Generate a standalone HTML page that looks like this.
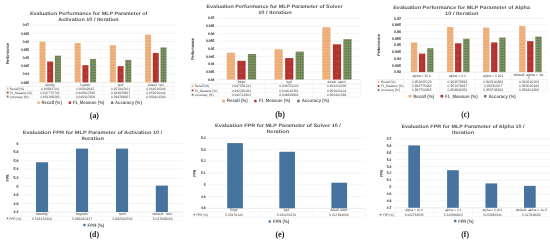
<!DOCTYPE html>
<html><head><meta charset="utf-8"><title>MLP parameter evaluation</title>
<style>
html,body{margin:0;padding:0;background:#fff;}
body{width:550px;height:242px;overflow:hidden;}
svg{display:block;}
text{white-space:pre;text-rendering:geometricPrecision;}
</style></head><body>
<svg width="550" height="242" viewBox="0 0 550 242">
<defs>
<pattern id="po" width="2.2" height="1.5" patternUnits="userSpaceOnUse"><rect width="2.2" height="1.5" fill="#f6ba88"/><rect y="1" width="2.2" height="0.5" fill="#de9c66"/><rect x="1.8" width="0.4" height="1.5" fill="#ecad78"/></pattern>
<pattern id="pr" width="1.2" height="1.2" patternUnits="userSpaceOnUse"><rect width="1.2" height="1.2" fill="#b1322c"/><rect width="0.5" height="0.5" fill="#bd4840"/></pattern>
<pattern id="pg" width="2.4" height="1.6" patternUnits="userSpaceOnUse"><rect width="2.4" height="1.6" fill="#5b724a"/><rect x="0.4" y="0.55" width="2.0" height="1.05" fill="#879d69"/></pattern>
</defs>
<rect width="550" height="242" fill="#ffffff"/>

<text x="30.00" y="14.75" dy="0.4" font-size="4.9" font-weight="bold" fill="#555555" font-family='"Liberation Sans",Arial,sans-serif' textLength="117.30" lengthAdjust="spacingAndGlyphs" >Evaluation Performance for MLP Parameter of</text>
<text x="58.20" y="21.00" dy="0.4" font-size="4.9" font-weight="bold" fill="#555555" font-family='"Liberation Sans",Arial,sans-serif' textLength="60.50" lengthAdjust="spacingAndGlyphs" >Activation 10 / Iteration</text>
<line x1="32.40" y1="25.20" x2="175.30" y2="25.20" stroke="#eeeeee" stroke-width="0.6"/>
<text x="22.87" y="25.20" dy="0.35em" font-size="3.4" font-weight="normal" fill="#3c3c3c" font-family='"Liberation Sans",Arial,sans-serif' textLength="6.23" lengthAdjust="spacingAndGlyphs" stroke="#3c3c3c" stroke-width="0.15">0.97</text>
<line x1="32.40" y1="33.37" x2="175.30" y2="33.37" stroke="#eeeeee" stroke-width="0.6"/>
<text x="21.09" y="33.37" dy="0.35em" font-size="3.4" font-weight="normal" fill="#3c3c3c" font-family='"Liberation Sans",Arial,sans-serif' textLength="8.01" lengthAdjust="spacingAndGlyphs" stroke="#3c3c3c" stroke-width="0.15">0.965</text>
<line x1="32.40" y1="41.54" x2="175.30" y2="41.54" stroke="#eeeeee" stroke-width="0.6"/>
<text x="22.87" y="41.54" dy="0.35em" font-size="3.4" font-weight="normal" fill="#3c3c3c" font-family='"Liberation Sans",Arial,sans-serif' textLength="6.23" lengthAdjust="spacingAndGlyphs" stroke="#3c3c3c" stroke-width="0.15">0.96</text>
<line x1="32.40" y1="49.71" x2="175.30" y2="49.71" stroke="#eeeeee" stroke-width="0.6"/>
<text x="21.09" y="49.71" dy="0.35em" font-size="3.4" font-weight="normal" fill="#3c3c3c" font-family='"Liberation Sans",Arial,sans-serif' textLength="8.01" lengthAdjust="spacingAndGlyphs" stroke="#3c3c3c" stroke-width="0.15">0.955</text>
<line x1="32.40" y1="57.88" x2="175.30" y2="57.88" stroke="#eeeeee" stroke-width="0.6"/>
<text x="22.87" y="57.88" dy="0.35em" font-size="3.4" font-weight="normal" fill="#3c3c3c" font-family='"Liberation Sans",Arial,sans-serif' textLength="6.23" lengthAdjust="spacingAndGlyphs" stroke="#3c3c3c" stroke-width="0.15">0.95</text>
<line x1="32.40" y1="66.05" x2="175.30" y2="66.05" stroke="#eeeeee" stroke-width="0.6"/>
<text x="21.09" y="66.05" dy="0.35em" font-size="3.4" font-weight="normal" fill="#3c3c3c" font-family='"Liberation Sans",Arial,sans-serif' textLength="8.01" lengthAdjust="spacingAndGlyphs" stroke="#3c3c3c" stroke-width="0.15">0.945</text>
<line x1="32.40" y1="74.22" x2="175.30" y2="74.22" stroke="#eeeeee" stroke-width="0.6"/>
<text x="22.87" y="74.22" dy="0.35em" font-size="3.4" font-weight="normal" fill="#3c3c3c" font-family='"Liberation Sans",Arial,sans-serif' textLength="6.23" lengthAdjust="spacingAndGlyphs" stroke="#3c3c3c" stroke-width="0.15">0.94</text>
<line x1="32.40" y1="82.39" x2="175.30" y2="82.39" stroke="#dedede" stroke-width="0.6"/>
<text x="21.09" y="82.39" dy="0.35em" font-size="3.4" font-weight="normal" fill="#3c3c3c" font-family='"Liberation Sans",Arial,sans-serif' textLength="8.01" lengthAdjust="spacingAndGlyphs" stroke="#3c3c3c" stroke-width="0.15">0.935</text>
<text transform="translate(7.90,53.70) rotate(-90)" x="-10.40" y="0" dy="0.35em" font-size="4.0" fill="#3c3c3c" font-family='"Liberation Sans",Arial,sans-serif' textLength="20.80" lengthAdjust="spacingAndGlyphs" stroke="#3c3c3c" stroke-width="0.1">Performance</text>
<rect x="39.50" y="41.64" width="6.00" height="40.75" fill="url(#po)"/>
<rect x="47.20" y="61.51" width="6.00" height="20.88" fill="url(#pr)"/>
<rect x="54.90" y="55.64" width="6.00" height="26.75" fill="url(#pg)"/>
<rect x="74.70" y="43.13" width="6.00" height="39.26" fill="url(#po)"/>
<rect x="82.40" y="65.16" width="6.00" height="17.23" fill="url(#pr)"/>
<rect x="90.10" y="59.01" width="6.00" height="23.38" fill="url(#pg)"/>
<rect x="109.90" y="45.07" width="6.00" height="37.32" fill="url(#po)"/>
<rect x="117.60" y="66.15" width="6.00" height="16.24" fill="url(#pr)"/>
<rect x="125.30" y="59.86" width="6.00" height="22.53" fill="url(#pg)"/>
<rect x="145.10" y="34.65" width="6.00" height="47.74" fill="url(#po)"/>
<rect x="152.80" y="52.93" width="6.00" height="29.46" fill="url(#pr)"/>
<rect x="160.50" y="47.42" width="6.00" height="34.97" fill="url(#pg)"/>
<line x1="5.50" y1="86.50" x2="173.60" y2="86.50" stroke="#ececec" stroke-width="0.5"/>
<line x1="5.50" y1="90.50" x2="173.60" y2="90.50" stroke="#ececec" stroke-width="0.5"/>
<line x1="5.50" y1="94.50" x2="173.60" y2="94.50" stroke="#ececec" stroke-width="0.5"/>
<line x1="5.50" y1="98.50" x2="173.60" y2="98.50" stroke="#ececec" stroke-width="0.5"/>
<line x1="5.50" y1="86.50" x2="173.60" y2="86.50" stroke="#ececec" stroke-width="0.5"/>
<line x1="5.50" y1="86.50" x2="5.50" y2="98.50" stroke="#ececec" stroke-width="0.5"/>
<line x1="32.40" y1="82.90" x2="32.40" y2="98.50" stroke="#ececec" stroke-width="0.5"/>
<line x1="67.70" y1="82.90" x2="67.70" y2="98.50" stroke="#ececec" stroke-width="0.5"/>
<line x1="103.00" y1="82.90" x2="103.00" y2="98.50" stroke="#ececec" stroke-width="0.5"/>
<line x1="138.30" y1="82.90" x2="138.30" y2="98.50" stroke="#ececec" stroke-width="0.5"/>
<line x1="173.60" y1="82.90" x2="173.60" y2="98.50" stroke="#ececec" stroke-width="0.5"/>
<text x="44.60" y="84.60" dy="0.35em" font-size="3.4" font-weight="normal" fill="#3c3c3c" font-family='"Liberation Sans",Arial,sans-serif' textLength="10.90" lengthAdjust="spacingAndGlyphs" >'identity'</text>
<text x="41.30" y="88.50" dy="0.35em" font-size="3.4" font-weight="normal" fill="#3c3c3c" font-family='"Liberation Sans",Arial,sans-serif' textLength="17.50" lengthAdjust="spacingAndGlyphs" >0.95993704</text>
<text x="40.42" y="92.50" dy="0.35em" font-size="3.4" font-weight="normal" fill="#3c3c3c" font-family='"Liberation Sans",Arial,sans-serif' textLength="19.25" lengthAdjust="spacingAndGlyphs" >0.947775705</text>
<text x="40.42" y="96.50" dy="0.35em" font-size="3.4" font-weight="normal" fill="#3c3c3c" font-family='"Liberation Sans",Arial,sans-serif' textLength="19.25" lengthAdjust="spacingAndGlyphs" >0.951368283</text>
<text x="79.90" y="84.60" dy="0.35em" font-size="3.4" font-weight="normal" fill="#3c3c3c" font-family='"Liberation Sans",Arial,sans-serif' textLength="10.90" lengthAdjust="spacingAndGlyphs" >'logistic'</text>
<text x="76.60" y="88.50" dy="0.35em" font-size="3.4" font-weight="normal" fill="#3c3c3c" font-family='"Liberation Sans",Arial,sans-serif' textLength="17.50" lengthAdjust="spacingAndGlyphs" >0.95902662</text>
<text x="75.72" y="92.50" dy="0.35em" font-size="3.4" font-weight="normal" fill="#3c3c3c" font-family='"Liberation Sans",Arial,sans-serif' textLength="19.25" lengthAdjust="spacingAndGlyphs" >0.945547358</text>
<text x="75.72" y="96.50" dy="0.35em" font-size="3.4" font-weight="normal" fill="#3c3c3c" font-family='"Liberation Sans",Arial,sans-serif' textLength="19.25" lengthAdjust="spacingAndGlyphs" >0.949307958</text>
<text x="117.38" y="84.60" dy="0.35em" font-size="3.4" font-weight="normal" fill="#3c3c3c" font-family='"Liberation Sans",Arial,sans-serif' textLength="6.54" lengthAdjust="spacingAndGlyphs" >'tanh'</text>
<text x="111.03" y="88.50" dy="0.35em" font-size="3.4" font-weight="normal" fill="#3c3c3c" font-family='"Liberation Sans",Arial,sans-serif' textLength="19.25" lengthAdjust="spacingAndGlyphs" >0.957842161</text>
<text x="111.03" y="92.50" dy="0.35em" font-size="3.4" font-weight="normal" fill="#3c3c3c" font-family='"Liberation Sans",Arial,sans-serif' textLength="19.25" lengthAdjust="spacingAndGlyphs" >0.944939567</text>
<text x="111.03" y="96.50" dy="0.35em" font-size="3.4" font-weight="normal" fill="#3c3c3c" font-family='"Liberation Sans",Arial,sans-serif' textLength="19.25" lengthAdjust="spacingAndGlyphs" >0.948788927</text>
<text x="147.77" y="84.60" dy="0.35em" font-size="3.4" font-weight="normal" fill="#3c3c3c" font-family='"Liberation Sans",Arial,sans-serif' textLength="16.35" lengthAdjust="spacingAndGlyphs" >default: 'relu'</text>
<text x="146.32" y="88.50" dy="0.35em" font-size="3.4" font-weight="normal" fill="#3c3c3c" font-family='"Liberation Sans",Arial,sans-serif' textLength="19.25" lengthAdjust="spacingAndGlyphs" >0.964216269</text>
<text x="146.32" y="92.50" dy="0.35em" font-size="3.4" font-weight="normal" fill="#3c3c3c" font-family='"Liberation Sans",Arial,sans-serif' textLength="19.25" lengthAdjust="spacingAndGlyphs" >0.953026444</text>
<text x="146.32" y="96.50" dy="0.35em" font-size="3.4" font-weight="normal" fill="#3c3c3c" font-family='"Liberation Sans",Arial,sans-serif' textLength="19.25" lengthAdjust="spacingAndGlyphs" >0.956401384</text>
<rect x="6.80" y="87.60" width="1.80" height="1.80" fill="#f0ad78"/>
<text x="9.80" y="88.50" dy="0.35em" font-size="3.3" font-weight="normal" fill="#3c3c3c" font-family='"Liberation Sans",Arial,sans-serif' textLength="14.30" lengthAdjust="spacingAndGlyphs" >Recall (%)</text>
<rect x="6.80" y="91.60" width="1.80" height="1.80" fill="#b1322c"/>
<text x="9.80" y="92.50" dy="0.35em" font-size="3.3" font-weight="normal" fill="#3c3c3c" font-family='"Liberation Sans",Arial,sans-serif' textLength="22.00" lengthAdjust="spacingAndGlyphs" >F1_Measure (%)</text>
<rect x="6.80" y="95.60" width="1.80" height="1.80" fill="#5d7d58"/>
<text x="9.80" y="96.50" dy="0.35em" font-size="3.3" font-weight="normal" fill="#3c3c3c" font-family='"Liberation Sans",Arial,sans-serif' textLength="18.80" lengthAdjust="spacingAndGlyphs" >Accuracy (%)</text>
<rect x="37.30" y="101.50" width="2.40" height="2.40" fill="#f0ad78"/>
<text x="41.50" y="102.40" dy="0.35em" font-size="4.8" font-weight="bold" fill="#5e5e5e" font-family='"Liberation Sans",Arial,sans-serif' textLength="20.30" lengthAdjust="spacingAndGlyphs" >Recall (%)</text>
<rect x="68.70" y="101.50" width="2.40" height="2.40" fill="#b1322c"/>
<text x="72.70" y="102.40" dy="0.35em" font-size="4.8" font-weight="bold" fill="#5e5e5e" font-family='"Liberation Sans",Arial,sans-serif' textLength="31.50" lengthAdjust="spacingAndGlyphs" >F1_Measure (%)</text>
<rect x="111.00" y="101.50" width="2.40" height="2.40" fill="#5d7d58"/>
<text x="115.00" y="102.40" dy="0.35em" font-size="4.8" font-weight="bold" fill="#5e5e5e" font-family='"Liberation Sans",Arial,sans-serif' textLength="26.80" lengthAdjust="spacingAndGlyphs" >Accuracy (%)</text>
<text x="89.80" y="115.70" dy="0.25em" font-size="8.8" font-weight="bold" fill="#1a1a1a" font-family='"Liberation Serif","Times New Roman",serif' textLength="9.20" lengthAdjust="spacingAndGlyphs" >(a)</text>
<text x="206.50" y="8.00" dy="0.4" font-size="4.9" font-weight="bold" fill="#555555" font-family='"Liberation Sans",Arial,sans-serif' textLength="136.10" lengthAdjust="spacingAndGlyphs" >Evaluation Performance for MLP Parameter of Solver</text>
<text x="258.20" y="13.75" dy="0.4" font-size="4.9" font-weight="bold" fill="#555555" font-family='"Liberation Sans",Arial,sans-serif' textLength="33.50" lengthAdjust="spacingAndGlyphs" >10 / Iteration</text>
<line x1="217.50" y1="18.30" x2="360.50" y2="18.30" stroke="#eeeeee" stroke-width="0.6"/>
<text x="207.93" y="18.30" dy="0.35em" font-size="3.4" font-weight="normal" fill="#3c3c3c" font-family='"Liberation Sans",Arial,sans-serif' textLength="6.47" lengthAdjust="spacingAndGlyphs" stroke="#3c3c3c" stroke-width="0.15">0.97</text>
<line x1="217.50" y1="25.96" x2="360.50" y2="25.96" stroke="#eeeeee" stroke-width="0.6"/>
<text x="206.08" y="25.96" dy="0.35em" font-size="3.4" font-weight="normal" fill="#3c3c3c" font-family='"Liberation Sans",Arial,sans-serif' textLength="8.32" lengthAdjust="spacingAndGlyphs" stroke="#3c3c3c" stroke-width="0.15">0.965</text>
<line x1="217.50" y1="33.62" x2="360.50" y2="33.62" stroke="#eeeeee" stroke-width="0.6"/>
<text x="207.93" y="33.62" dy="0.35em" font-size="3.4" font-weight="normal" fill="#3c3c3c" font-family='"Liberation Sans",Arial,sans-serif' textLength="6.47" lengthAdjust="spacingAndGlyphs" stroke="#3c3c3c" stroke-width="0.15">0.96</text>
<line x1="217.50" y1="41.28" x2="360.50" y2="41.28" stroke="#eeeeee" stroke-width="0.6"/>
<text x="206.08" y="41.28" dy="0.35em" font-size="3.4" font-weight="normal" fill="#3c3c3c" font-family='"Liberation Sans",Arial,sans-serif' textLength="8.32" lengthAdjust="spacingAndGlyphs" stroke="#3c3c3c" stroke-width="0.15">0.955</text>
<line x1="217.50" y1="48.94" x2="360.50" y2="48.94" stroke="#eeeeee" stroke-width="0.6"/>
<text x="207.93" y="48.94" dy="0.35em" font-size="3.4" font-weight="normal" fill="#3c3c3c" font-family='"Liberation Sans",Arial,sans-serif' textLength="6.47" lengthAdjust="spacingAndGlyphs" stroke="#3c3c3c" stroke-width="0.15">0.95</text>
<line x1="217.50" y1="56.60" x2="360.50" y2="56.60" stroke="#eeeeee" stroke-width="0.6"/>
<text x="206.08" y="56.60" dy="0.35em" font-size="3.4" font-weight="normal" fill="#3c3c3c" font-family='"Liberation Sans",Arial,sans-serif' textLength="8.32" lengthAdjust="spacingAndGlyphs" stroke="#3c3c3c" stroke-width="0.15">0.945</text>
<line x1="217.50" y1="64.26" x2="360.50" y2="64.26" stroke="#eeeeee" stroke-width="0.6"/>
<text x="207.93" y="64.26" dy="0.35em" font-size="3.4" font-weight="normal" fill="#3c3c3c" font-family='"Liberation Sans",Arial,sans-serif' textLength="6.47" lengthAdjust="spacingAndGlyphs" stroke="#3c3c3c" stroke-width="0.15">0.94</text>
<line x1="217.50" y1="71.92" x2="360.50" y2="71.92" stroke="#eeeeee" stroke-width="0.6"/>
<text x="206.08" y="71.92" dy="0.35em" font-size="3.4" font-weight="normal" fill="#3c3c3c" font-family='"Liberation Sans",Arial,sans-serif' textLength="8.32" lengthAdjust="spacingAndGlyphs" stroke="#3c3c3c" stroke-width="0.15">0.935</text>
<line x1="217.50" y1="79.58" x2="360.50" y2="79.58" stroke="#dedede" stroke-width="0.6"/>
<text x="207.93" y="79.58" dy="0.35em" font-size="3.4" font-weight="normal" fill="#3c3c3c" font-family='"Liberation Sans",Arial,sans-serif' textLength="6.47" lengthAdjust="spacingAndGlyphs" stroke="#3c3c3c" stroke-width="0.15">0.93</text>
<text transform="translate(192.60,49.00) rotate(-90)" x="-11.00" y="0" dy="0.35em" font-size="4.0" fill="#3c3c3c" font-family='"Liberation Sans",Arial,sans-serif' textLength="22.00" lengthAdjust="spacingAndGlyphs" stroke="#3c3c3c" stroke-width="0.1">Performance</text>
<rect x="226.80" y="52.72" width="8.20" height="26.86" fill="url(#po)"/>
<rect x="237.40" y="60.79" width="8.20" height="18.79" fill="url(#pr)"/>
<rect x="247.90" y="53.98" width="8.20" height="25.60" fill="url(#pg)"/>
<rect x="274.55" y="49.35" width="8.20" height="30.23" fill="url(#po)"/>
<rect x="285.15" y="58.07" width="8.20" height="21.51" fill="url(#pr)"/>
<rect x="295.65" y="51.59" width="8.20" height="27.99" fill="url(#pg)"/>
<rect x="322.30" y="27.16" width="8.20" height="52.42" fill="url(#po)"/>
<rect x="332.90" y="44.30" width="8.20" height="35.28" fill="url(#pr)"/>
<rect x="343.40" y="39.13" width="8.20" height="40.45" fill="url(#pg)"/>
<line x1="190.50" y1="83.90" x2="360.50" y2="83.90" stroke="#ececec" stroke-width="0.5"/>
<line x1="190.50" y1="88.25" x2="360.50" y2="88.25" stroke="#ececec" stroke-width="0.5"/>
<line x1="190.50" y1="92.60" x2="360.50" y2="92.60" stroke="#ececec" stroke-width="0.5"/>
<line x1="190.50" y1="96.95" x2="360.50" y2="96.95" stroke="#ececec" stroke-width="0.5"/>
<line x1="190.50" y1="83.90" x2="360.50" y2="83.90" stroke="#ececec" stroke-width="0.5"/>
<line x1="190.50" y1="83.90" x2="190.50" y2="96.95" stroke="#ececec" stroke-width="0.5"/>
<line x1="217.50" y1="79.60" x2="217.50" y2="96.95" stroke="#ececec" stroke-width="0.5"/>
<line x1="265.17" y1="79.60" x2="265.17" y2="96.95" stroke="#ececec" stroke-width="0.5"/>
<line x1="312.83" y1="79.60" x2="312.83" y2="96.95" stroke="#ececec" stroke-width="0.5"/>
<line x1="360.50" y1="79.60" x2="360.50" y2="96.95" stroke="#ececec" stroke-width="0.5"/>
<text x="237.03" y="81.70" dy="0.35em" font-size="3.4" font-weight="normal" fill="#3c3c3c" font-family='"Liberation Sans",Arial,sans-serif' textLength="8.61" lengthAdjust="spacingAndGlyphs" >'lbfgs'</text>
<text x="231.65" y="86.08" dy="0.35em" font-size="3.4" font-weight="normal" fill="#3c3c3c" font-family='"Liberation Sans",Arial,sans-serif' textLength="19.36" lengthAdjust="spacingAndGlyphs" >0.947535141</text>
<text x="231.65" y="90.42" dy="0.35em" font-size="3.4" font-weight="normal" fill="#3c3c3c" font-family='"Liberation Sans",Arial,sans-serif' textLength="19.36" lengthAdjust="spacingAndGlyphs" >0.942265184</text>
<text x="231.65" y="94.78" dy="0.35em" font-size="3.4" font-weight="normal" fill="#3c3c3c" font-family='"Liberation Sans",Arial,sans-serif' textLength="19.36" lengthAdjust="spacingAndGlyphs" >0.946712803</text>
<text x="285.93" y="81.70" dy="0.35em" font-size="3.4" font-weight="normal" fill="#3c3c3c" font-family='"Liberation Sans",Arial,sans-serif' textLength="6.15" lengthAdjust="spacingAndGlyphs" >'sgd'</text>
<text x="279.32" y="86.08" dy="0.35em" font-size="3.4" font-weight="normal" fill="#3c3c3c" font-family='"Liberation Sans",Arial,sans-serif' textLength="19.36" lengthAdjust="spacingAndGlyphs" >0.949731163</text>
<text x="279.32" y="90.42" dy="0.35em" font-size="3.4" font-weight="normal" fill="#3c3c3c" font-family='"Liberation Sans",Arial,sans-serif' textLength="19.36" lengthAdjust="spacingAndGlyphs" >0.944042351</text>
<text x="279.32" y="94.78" dy="0.35em" font-size="3.4" font-weight="normal" fill="#3c3c3c" font-family='"Liberation Sans",Arial,sans-serif' textLength="19.36" lengthAdjust="spacingAndGlyphs" >0.948269896</text>
<text x="327.44" y="81.70" dy="0.35em" font-size="3.4" font-weight="normal" fill="#3c3c3c" font-family='"Liberation Sans",Arial,sans-serif' textLength="18.45" lengthAdjust="spacingAndGlyphs" >default: 'adam'</text>
<text x="326.99" y="86.08" dy="0.35em" font-size="3.4" font-weight="normal" fill="#3c3c3c" font-family='"Liberation Sans",Arial,sans-serif' textLength="19.36" lengthAdjust="spacingAndGlyphs" >0.964216269</text>
<text x="326.99" y="90.42" dy="0.35em" font-size="3.4" font-weight="normal" fill="#3c3c3c" font-family='"Liberation Sans",Arial,sans-serif' textLength="19.36" lengthAdjust="spacingAndGlyphs" >0.953026444</text>
<text x="326.99" y="94.78" dy="0.35em" font-size="3.4" font-weight="normal" fill="#3c3c3c" font-family='"Liberation Sans",Arial,sans-serif' textLength="19.36" lengthAdjust="spacingAndGlyphs" >0.956401384</text>
<rect x="191.70" y="85.17" width="1.80" height="1.80" fill="#f0ad78"/>
<text x="194.80" y="86.08" dy="0.35em" font-size="3.3" font-weight="normal" fill="#3c3c3c" font-family='"Liberation Sans",Arial,sans-serif' textLength="14.30" lengthAdjust="spacingAndGlyphs" >Recall (%)</text>
<rect x="191.70" y="89.52" width="1.80" height="1.80" fill="#b1322c"/>
<text x="194.80" y="90.42" dy="0.35em" font-size="3.3" font-weight="normal" fill="#3c3c3c" font-family='"Liberation Sans",Arial,sans-serif' textLength="22.00" lengthAdjust="spacingAndGlyphs" >F1_Measure (%)</text>
<rect x="191.70" y="93.88" width="1.80" height="1.80" fill="#5d7d58"/>
<text x="194.80" y="94.78" dy="0.35em" font-size="3.3" font-weight="normal" fill="#3c3c3c" font-family='"Liberation Sans",Arial,sans-serif' textLength="18.80" lengthAdjust="spacingAndGlyphs" >Accuracy (%)</text>
<rect x="222.30" y="99.65" width="2.70" height="2.70" fill="#f0ad78"/>
<text x="226.80" y="100.70" dy="0.35em" font-size="4.8" font-weight="bold" fill="#5e5e5e" font-family='"Liberation Sans",Arial,sans-serif' textLength="20.90" lengthAdjust="spacingAndGlyphs" >Recall (%)</text>
<rect x="254.20" y="99.80" width="2.40" height="2.40" fill="#b1322c"/>
<text x="258.70" y="100.70" dy="0.35em" font-size="4.8" font-weight="bold" fill="#5e5e5e" font-family='"Liberation Sans",Arial,sans-serif' textLength="31.50" lengthAdjust="spacingAndGlyphs" >F1_Measure (%)</text>
<rect x="297.20" y="99.75" width="2.50" height="2.50" fill="#5d7d58"/>
<text x="301.70" y="100.70" dy="0.35em" font-size="4.8" font-weight="bold" fill="#5e5e5e" font-family='"Liberation Sans",Arial,sans-serif' textLength="27.30" lengthAdjust="spacingAndGlyphs" >Accuracy (%)</text>
<text x="275.20" y="114.70" dy="0.25em" font-size="8.8" font-weight="bold" fill="#1a1a1a" font-family='"Liberation Serif","Times New Roman",serif' textLength="9.80" lengthAdjust="spacingAndGlyphs" >(b)</text>
<text x="393.20" y="8.60" dy="0.4" font-size="4.9" font-weight="bold" fill="#555555" font-family='"Liberation Sans",Arial,sans-serif' textLength="136.80" lengthAdjust="spacingAndGlyphs" >Evaluation Performance for MLP Parameter of Alpha</text>
<text x="445.00" y="14.20" dy="0.4" font-size="4.9" font-weight="bold" fill="#555555" font-family='"Liberation Sans",Arial,sans-serif' textLength="33.50" lengthAdjust="spacingAndGlyphs" >10 / Iteration</text>
<line x1="403.80" y1="18.30" x2="546.80" y2="18.30" stroke="#eeeeee" stroke-width="0.6"/>
<text x="394.07" y="18.30" dy="0.35em" font-size="3.5" font-weight="normal" fill="#3c3c3c" font-family='"Liberation Sans",Arial,sans-serif' textLength="6.82" lengthAdjust="spacingAndGlyphs" stroke="#3c3c3c" stroke-width="0.15">0.97</text>
<line x1="403.80" y1="25.03" x2="546.80" y2="25.03" stroke="#eeeeee" stroke-width="0.6"/>
<text x="392.12" y="25.03" dy="0.35em" font-size="3.5" font-weight="normal" fill="#3c3c3c" font-family='"Liberation Sans",Arial,sans-serif' textLength="8.77" lengthAdjust="spacingAndGlyphs" stroke="#3c3c3c" stroke-width="0.15">0.965</text>
<line x1="403.80" y1="31.76" x2="546.80" y2="31.76" stroke="#eeeeee" stroke-width="0.6"/>
<text x="394.07" y="31.76" dy="0.35em" font-size="3.5" font-weight="normal" fill="#3c3c3c" font-family='"Liberation Sans",Arial,sans-serif' textLength="6.82" lengthAdjust="spacingAndGlyphs" stroke="#3c3c3c" stroke-width="0.15">0.96</text>
<line x1="403.80" y1="38.49" x2="546.80" y2="38.49" stroke="#eeeeee" stroke-width="0.6"/>
<text x="392.12" y="38.49" dy="0.35em" font-size="3.5" font-weight="normal" fill="#3c3c3c" font-family='"Liberation Sans",Arial,sans-serif' textLength="8.77" lengthAdjust="spacingAndGlyphs" stroke="#3c3c3c" stroke-width="0.15">0.955</text>
<line x1="403.80" y1="45.22" x2="546.80" y2="45.22" stroke="#eeeeee" stroke-width="0.6"/>
<text x="394.07" y="45.22" dy="0.35em" font-size="3.5" font-weight="normal" fill="#3c3c3c" font-family='"Liberation Sans",Arial,sans-serif' textLength="6.82" lengthAdjust="spacingAndGlyphs" stroke="#3c3c3c" stroke-width="0.15">0.95</text>
<line x1="403.80" y1="51.95" x2="546.80" y2="51.95" stroke="#eeeeee" stroke-width="0.6"/>
<text x="392.12" y="51.95" dy="0.35em" font-size="3.5" font-weight="normal" fill="#3c3c3c" font-family='"Liberation Sans",Arial,sans-serif' textLength="8.77" lengthAdjust="spacingAndGlyphs" stroke="#3c3c3c" stroke-width="0.15">0.945</text>
<line x1="403.80" y1="58.68" x2="546.80" y2="58.68" stroke="#eeeeee" stroke-width="0.6"/>
<text x="394.07" y="58.68" dy="0.35em" font-size="3.5" font-weight="normal" fill="#3c3c3c" font-family='"Liberation Sans",Arial,sans-serif' textLength="6.82" lengthAdjust="spacingAndGlyphs" stroke="#3c3c3c" stroke-width="0.15">0.94</text>
<line x1="403.80" y1="65.41" x2="546.80" y2="65.41" stroke="#eeeeee" stroke-width="0.6"/>
<text x="392.12" y="65.41" dy="0.35em" font-size="3.5" font-weight="normal" fill="#3c3c3c" font-family='"Liberation Sans",Arial,sans-serif' textLength="8.77" lengthAdjust="spacingAndGlyphs" stroke="#3c3c3c" stroke-width="0.15">0.935</text>
<line x1="403.80" y1="72.14" x2="546.80" y2="72.14" stroke="#dedede" stroke-width="0.6"/>
<text x="394.07" y="72.14" dy="0.35em" font-size="3.5" font-weight="normal" fill="#3c3c3c" font-family='"Liberation Sans",Arial,sans-serif' textLength="6.82" lengthAdjust="spacingAndGlyphs" stroke="#3c3c3c" stroke-width="0.15">0.93</text>
<text transform="translate(378.90,45.00) rotate(-90)" x="-10.75" y="0" dy="0.35em" font-size="4.0" fill="#3c3c3c" font-family='"Liberation Sans",Arial,sans-serif' textLength="21.50" lengthAdjust="spacingAndGlyphs" stroke="#3c3c3c" stroke-width="0.1">Performance</text>
<rect x="411.00" y="42.45" width="6.30" height="29.69" fill="url(#po)"/>
<rect x="419.00" y="53.60" width="6.30" height="18.54" fill="url(#pr)"/>
<rect x="427.20" y="48.25" width="6.30" height="23.89" fill="url(#pg)"/>
<rect x="447.05" y="26.94" width="6.30" height="45.20" fill="url(#po)"/>
<rect x="455.05" y="43.23" width="6.30" height="28.91" fill="url(#pr)"/>
<rect x="463.25" y="38.70" width="6.30" height="33.44" fill="url(#pg)"/>
<rect x="483.10" y="27.59" width="6.30" height="44.55" fill="url(#po)"/>
<rect x="491.10" y="42.39" width="6.30" height="29.75" fill="url(#pr)"/>
<rect x="499.30" y="37.54" width="6.30" height="34.60" fill="url(#pg)"/>
<rect x="519.15" y="26.08" width="6.30" height="46.06" fill="url(#po)"/>
<rect x="527.15" y="41.15" width="6.30" height="30.99" fill="url(#pr)"/>
<rect x="535.35" y="36.60" width="6.30" height="35.54" fill="url(#pg)"/>
<line x1="376.50" y1="79.50" x2="546.80" y2="79.50" stroke="#ececec" stroke-width="0.5"/>
<line x1="376.50" y1="84.00" x2="546.80" y2="84.00" stroke="#ececec" stroke-width="0.5"/>
<line x1="376.50" y1="88.00" x2="546.80" y2="88.00" stroke="#ececec" stroke-width="0.5"/>
<line x1="376.50" y1="92.20" x2="546.80" y2="92.20" stroke="#ececec" stroke-width="0.5"/>
<line x1="376.50" y1="79.50" x2="546.80" y2="79.50" stroke="#ececec" stroke-width="0.5"/>
<line x1="376.50" y1="79.50" x2="376.50" y2="92.20" stroke="#ececec" stroke-width="0.5"/>
<line x1="403.80" y1="72.00" x2="403.80" y2="92.20" stroke="#ececec" stroke-width="0.5"/>
<line x1="439.55" y1="72.00" x2="439.55" y2="92.20" stroke="#ececec" stroke-width="0.5"/>
<line x1="475.30" y1="72.00" x2="475.30" y2="92.20" stroke="#ececec" stroke-width="0.5"/>
<line x1="511.05" y1="72.00" x2="511.05" y2="92.20" stroke="#ececec" stroke-width="0.5"/>
<line x1="546.80" y1="72.00" x2="546.80" y2="92.20" stroke="#ececec" stroke-width="0.5"/>
<text x="412.38" y="75.90" dy="0.35em" font-size="3.5" font-weight="normal" fill="#3c3c3c" font-family='"Liberation Sans",Arial,sans-serif' textLength="18.60" lengthAdjust="spacingAndGlyphs" >alpha = 10.0</text>
<text x="411.83" y="81.75" dy="0.35em" font-size="3.5" font-weight="normal" fill="#3c3c3c" font-family='"Liberation Sans",Arial,sans-serif' textLength="19.69" lengthAdjust="spacingAndGlyphs" >0.952055123</text>
<text x="411.83" y="86.00" dy="0.35em" font-size="3.5" font-weight="normal" fill="#3c3c3c" font-family='"Liberation Sans",Arial,sans-serif' textLength="19.69" lengthAdjust="spacingAndGlyphs" >0.943775464</text>
<text x="411.83" y="90.10" dy="0.35em" font-size="3.5" font-weight="normal" fill="#3c3c3c" font-family='"Liberation Sans",Arial,sans-serif' textLength="19.69" lengthAdjust="spacingAndGlyphs" >0.947750865</text>
<text x="448.90" y="75.90" dy="0.35em" font-size="3.5" font-weight="normal" fill="#3c3c3c" font-family='"Liberation Sans",Arial,sans-serif' textLength="17.05" lengthAdjust="spacingAndGlyphs" >alpha = 0.1</text>
<text x="447.58" y="81.75" dy="0.35em" font-size="3.5" font-weight="normal" fill="#3c3c3c" font-family='"Liberation Sans",Arial,sans-serif' textLength="19.69" lengthAdjust="spacingAndGlyphs" >0.963578818</text>
<text x="447.58" y="86.00" dy="0.35em" font-size="3.5" font-weight="normal" fill="#3c3c3c" font-family='"Liberation Sans",Arial,sans-serif' textLength="19.69" lengthAdjust="spacingAndGlyphs" >0.951479417</text>
<text x="447.58" y="90.10" dy="0.35em" font-size="3.5" font-weight="normal" fill="#3c3c3c" font-family='"Liberation Sans",Arial,sans-serif' textLength="19.69" lengthAdjust="spacingAndGlyphs" >0.954844291</text>
<text x="483.10" y="75.90" dy="0.35em" font-size="3.5" font-weight="normal" fill="#3c3c3c" font-family='"Liberation Sans",Arial,sans-serif' textLength="20.15" lengthAdjust="spacingAndGlyphs" >alpha = 0.001</text>
<text x="483.33" y="81.75" dy="0.35em" font-size="3.5" font-weight="normal" fill="#3c3c3c" font-family='"Liberation Sans",Arial,sans-serif' textLength="19.69" lengthAdjust="spacingAndGlyphs" >0.963100884</text>
<text x="484.22" y="86.00" dy="0.35em" font-size="3.5" font-weight="normal" fill="#3c3c3c" font-family='"Liberation Sans",Arial,sans-serif' textLength="17.90" lengthAdjust="spacingAndGlyphs" >0.95210567</text>
<text x="483.33" y="90.10" dy="0.35em" font-size="3.5" font-weight="normal" fill="#3c3c3c" font-family='"Liberation Sans",Arial,sans-serif' textLength="19.69" lengthAdjust="spacingAndGlyphs" >0.955709343</text>
<text x="513.42" y="74.40" dy="0.35em" font-size="3.5" font-weight="normal" fill="#3c3c3c" font-family='"Liberation Sans",Arial,sans-serif' textLength="31.00" lengthAdjust="spacingAndGlyphs" >default: alpha = 1e-</text>
<text x="528.15" y="77.70" dy="0.35em" font-size="3.5" font-weight="normal" fill="#3c3c3c" font-family='"Liberation Sans",Arial,sans-serif' textLength="1.55" lengthAdjust="spacingAndGlyphs" >5</text>
<text x="519.08" y="81.75" dy="0.35em" font-size="3.5" font-weight="normal" fill="#3c3c3c" font-family='"Liberation Sans",Arial,sans-serif' textLength="19.69" lengthAdjust="spacingAndGlyphs" >0.964216269</text>
<text x="519.08" y="86.00" dy="0.35em" font-size="3.5" font-weight="normal" fill="#3c3c3c" font-family='"Liberation Sans",Arial,sans-serif' textLength="19.69" lengthAdjust="spacingAndGlyphs" >0.953026444</text>
<text x="519.08" y="90.10" dy="0.35em" font-size="3.5" font-weight="normal" fill="#3c3c3c" font-family='"Liberation Sans",Arial,sans-serif' textLength="19.69" lengthAdjust="spacingAndGlyphs" >0.956401384</text>
<rect x="377.70" y="80.85" width="1.80" height="1.80" fill="#f0ad78"/>
<text x="380.90" y="81.75" dy="0.35em" font-size="3.4" font-weight="normal" fill="#3c3c3c" font-family='"Liberation Sans",Arial,sans-serif' textLength="14.60" lengthAdjust="spacingAndGlyphs" >Recall (%)</text>
<rect x="377.70" y="85.10" width="1.80" height="1.80" fill="#b1322c"/>
<text x="380.90" y="86.00" dy="0.35em" font-size="3.4" font-weight="normal" fill="#3c3c3c" font-family='"Liberation Sans",Arial,sans-serif' textLength="22.60" lengthAdjust="spacingAndGlyphs" >F1_Measure (%)</text>
<rect x="377.70" y="89.20" width="1.80" height="1.80" fill="#5d7d58"/>
<text x="380.90" y="90.10" dy="0.35em" font-size="3.4" font-weight="normal" fill="#3c3c3c" font-family='"Liberation Sans",Arial,sans-serif' textLength="19.10" lengthAdjust="spacingAndGlyphs" >Accuracy (%)</text>
<rect x="408.60" y="94.80" width="2.80" height="2.80" fill="#f0ad78"/>
<text x="413.20" y="95.90" dy="0.35em" font-size="4.8" font-weight="bold" fill="#5e5e5e" font-family='"Liberation Sans",Arial,sans-serif' textLength="20.80" lengthAdjust="spacingAndGlyphs" >Recall (%)</text>
<rect x="440.50" y="94.85" width="2.70" height="2.70" fill="#b1322c"/>
<text x="445.00" y="95.90" dy="0.35em" font-size="4.8" font-weight="bold" fill="#5e5e5e" font-family='"Liberation Sans",Arial,sans-serif' textLength="32.60" lengthAdjust="spacingAndGlyphs" >F1_Measure (%)</text>
<rect x="484.00" y="94.95" width="2.50" height="2.50" fill="#5d7d58"/>
<text x="488.50" y="95.90" dy="0.35em" font-size="4.8" font-weight="bold" fill="#5e5e5e" font-family='"Liberation Sans",Arial,sans-serif' textLength="27.30" lengthAdjust="spacingAndGlyphs" >Accuracy (%)</text>
<text x="461.30" y="114.70" dy="0.25em" font-size="8.8" font-weight="bold" fill="#1a1a1a" font-family='"Liberation Serif","Times New Roman",serif' textLength="8.30" lengthAdjust="spacingAndGlyphs" >(c)</text>
<text x="22.70" y="133.10" dy="0.4" font-size="4.9" font-weight="bold" fill="#555555" font-family='"Liberation Sans",Arial,sans-serif' textLength="139.70" lengthAdjust="spacingAndGlyphs" >Evaluation FPR for MLP Parameter of Activation 10 /</text>
<text x="81.40" y="139.30" dy="0.4" font-size="4.9" font-weight="bold" fill="#555555" font-family='"Liberation Sans",Arial,sans-serif' textLength="22.70" lengthAdjust="spacingAndGlyphs" >Iteration</text>
<line x1="21.80" y1="143.60" x2="182.70" y2="143.60" stroke="#eeeeee" stroke-width="0.6"/>
<text x="16.60" y="143.60" dy="0.35em" font-size="3.5" font-weight="normal" fill="#3c3c3c" font-family='"Liberation Sans",Arial,sans-serif' textLength="2.00" lengthAdjust="spacingAndGlyphs" stroke="#3c3c3c" stroke-width="0.15">6</text>
<line x1="21.80" y1="152.15" x2="182.70" y2="152.15" stroke="#eeeeee" stroke-width="0.6"/>
<text x="13.60" y="152.15" dy="0.35em" font-size="3.5" font-weight="normal" fill="#3c3c3c" font-family='"Liberation Sans",Arial,sans-serif' textLength="5.00" lengthAdjust="spacingAndGlyphs" stroke="#3c3c3c" stroke-width="0.15">5.8</text>
<line x1="21.80" y1="160.70" x2="182.70" y2="160.70" stroke="#eeeeee" stroke-width="0.6"/>
<text x="13.60" y="160.70" dy="0.35em" font-size="3.5" font-weight="normal" fill="#3c3c3c" font-family='"Liberation Sans",Arial,sans-serif' textLength="5.00" lengthAdjust="spacingAndGlyphs" stroke="#3c3c3c" stroke-width="0.15">5.6</text>
<line x1="21.80" y1="169.25" x2="182.70" y2="169.25" stroke="#eeeeee" stroke-width="0.6"/>
<text x="13.60" y="169.25" dy="0.35em" font-size="3.5" font-weight="normal" fill="#3c3c3c" font-family='"Liberation Sans",Arial,sans-serif' textLength="5.00" lengthAdjust="spacingAndGlyphs" stroke="#3c3c3c" stroke-width="0.15">5.4</text>
<line x1="21.80" y1="177.80" x2="182.70" y2="177.80" stroke="#eeeeee" stroke-width="0.6"/>
<text x="13.60" y="177.80" dy="0.35em" font-size="3.5" font-weight="normal" fill="#3c3c3c" font-family='"Liberation Sans",Arial,sans-serif' textLength="5.00" lengthAdjust="spacingAndGlyphs" stroke="#3c3c3c" stroke-width="0.15">5.2</text>
<line x1="21.80" y1="186.35" x2="182.70" y2="186.35" stroke="#eeeeee" stroke-width="0.6"/>
<text x="16.60" y="186.35" dy="0.35em" font-size="3.5" font-weight="normal" fill="#3c3c3c" font-family='"Liberation Sans",Arial,sans-serif' textLength="2.00" lengthAdjust="spacingAndGlyphs" stroke="#3c3c3c" stroke-width="0.15">5</text>
<line x1="21.80" y1="194.90" x2="182.70" y2="194.90" stroke="#eeeeee" stroke-width="0.6"/>
<text x="13.60" y="194.90" dy="0.35em" font-size="3.5" font-weight="normal" fill="#3c3c3c" font-family='"Liberation Sans",Arial,sans-serif' textLength="5.00" lengthAdjust="spacingAndGlyphs" stroke="#3c3c3c" stroke-width="0.15">4.8</text>
<line x1="21.80" y1="203.45" x2="182.70" y2="203.45" stroke="#eeeeee" stroke-width="0.6"/>
<text x="13.60" y="203.45" dy="0.35em" font-size="3.5" font-weight="normal" fill="#3c3c3c" font-family='"Liberation Sans",Arial,sans-serif' textLength="5.00" lengthAdjust="spacingAndGlyphs" stroke="#3c3c3c" stroke-width="0.15">4.6</text>
<line x1="21.80" y1="212.00" x2="182.70" y2="212.00" stroke="#dedede" stroke-width="0.6"/>
<text x="13.60" y="212.00" dy="0.35em" font-size="3.5" font-weight="normal" fill="#3c3c3c" font-family='"Liberation Sans",Arial,sans-serif' textLength="5.00" lengthAdjust="spacingAndGlyphs" stroke="#3c3c3c" stroke-width="0.15">4.4</text>
<text transform="translate(7.70,178.00) rotate(-90)" x="-3.50" y="0" dy="0.35em" font-size="4.3" fill="#3c3c3c" font-family='"Liberation Sans",Arial,sans-serif' textLength="7.00" lengthAdjust="spacingAndGlyphs" stroke="#3c3c3c" stroke-width="0.1">FPR</text>
<rect x="36.00" y="162.27" width="12.10" height="49.73" fill="#47739f"/>
<rect x="76.00" y="148.59" width="12.10" height="63.41" fill="#47739f"/>
<rect x="116.00" y="148.62" width="12.10" height="63.38" fill="#47739f"/>
<rect x="155.80" y="185.59" width="12.10" height="26.41" fill="#47739f"/>
<line x1="5.00" y1="216.30" x2="182.70" y2="216.30" stroke="#ececec" stroke-width="0.5"/>
<line x1="5.00" y1="220.50" x2="182.70" y2="220.50" stroke="#ececec" stroke-width="0.5"/>
<line x1="5.00" y1="216.30" x2="5.00" y2="220.50" stroke="#ececec" stroke-width="0.5"/>
<line x1="21.80" y1="212.00" x2="21.80" y2="220.50" stroke="#ececec" stroke-width="0.5"/>
<line x1="62.02" y1="212.00" x2="62.02" y2="220.50" stroke="#ececec" stroke-width="0.5"/>
<line x1="102.25" y1="212.00" x2="102.25" y2="220.50" stroke="#ececec" stroke-width="0.5"/>
<line x1="142.47" y1="212.00" x2="142.47" y2="220.50" stroke="#ececec" stroke-width="0.5"/>
<line x1="182.70" y1="212.00" x2="182.70" y2="220.50" stroke="#ececec" stroke-width="0.5"/>
<text x="35.26" y="214.25" dy="0.35em" font-size="3.5" font-weight="normal" fill="#3c3c3c" font-family='"Liberation Sans",Arial,sans-serif' textLength="13.30" lengthAdjust="spacingAndGlyphs" >'identity'</text>
<text x="31.96" y="218.40" dy="0.35em" font-size="3.5" font-weight="normal" fill="#3c3c3c" font-family='"Liberation Sans",Arial,sans-serif' textLength="19.91" lengthAdjust="spacingAndGlyphs" >5.563176304</text>
<text x="75.49" y="214.25" dy="0.35em" font-size="3.5" font-weight="normal" fill="#3c3c3c" font-family='"Liberation Sans",Arial,sans-serif' textLength="13.30" lengthAdjust="spacingAndGlyphs" >'logistic'</text>
<text x="72.18" y="218.40" dy="0.35em" font-size="3.5" font-weight="normal" fill="#3c3c3c" font-family='"Liberation Sans",Arial,sans-serif' textLength="19.91" lengthAdjust="spacingAndGlyphs" >5.883310417</text>
<text x="118.37" y="214.25" dy="0.35em" font-size="3.5" font-weight="normal" fill="#3c3c3c" font-family='"Liberation Sans",Arial,sans-serif' textLength="7.98" lengthAdjust="spacingAndGlyphs" >'tanh'</text>
<text x="112.41" y="218.40" dy="0.35em" font-size="3.5" font-weight="normal" fill="#3c3c3c" font-family='"Liberation Sans",Arial,sans-serif' textLength="19.91" lengthAdjust="spacingAndGlyphs" >5.882630769</text>
<text x="152.61" y="214.25" dy="0.35em" font-size="3.5" font-weight="normal" fill="#3c3c3c" font-family='"Liberation Sans",Arial,sans-serif' textLength="19.95" lengthAdjust="spacingAndGlyphs" >default: 'relu'</text>
<text x="152.63" y="218.40" dy="0.35em" font-size="3.5" font-weight="normal" fill="#3c3c3c" font-family='"Liberation Sans",Arial,sans-serif' textLength="19.91" lengthAdjust="spacingAndGlyphs" >5.017849056</text>
<rect x="6.70" y="217.65" width="1.50" height="1.50" fill="#47739f"/>
<text x="9.30" y="218.40" dy="0.35em" font-size="3.4" font-weight="normal" fill="#3c3c3c" font-family='"Liberation Sans",Arial,sans-serif' textLength="12.00" lengthAdjust="spacingAndGlyphs" >FPR (%)</text>
<rect x="83.30" y="223.85" width="2.30" height="2.30" fill="#47739f"/>
<text x="87.60" y="224.80" dy="0.35em" font-size="4.9" font-weight="bold" fill="#5e5e5e" font-family='"Liberation Sans",Arial,sans-serif' textLength="16.60" lengthAdjust="spacingAndGlyphs" >FPR (%)</text>
<text x="89.50" y="234.70" dy="0.25em" font-size="8.8" font-weight="bold" fill="#1a1a1a" font-family='"Liberation Serif","Times New Roman",serif' textLength="9.50" lengthAdjust="spacingAndGlyphs" >(d)</text>
<text x="215.00" y="126.90" dy="0.4" font-size="4.9" font-weight="bold" fill="#555555" font-family='"Liberation Sans",Arial,sans-serif' textLength="125.80" lengthAdjust="spacingAndGlyphs" >Evaluation FPR for MLP Parameter of Solver 10 /</text>
<text x="266.80" y="133.00" dy="0.4" font-size="4.9" font-weight="bold" fill="#555555" font-family='"Liberation Sans",Arial,sans-serif' textLength="22.30" lengthAdjust="spacingAndGlyphs" >Iteration</text>
<line x1="207.60" y1="137.80" x2="365.40" y2="137.80" stroke="#eeeeee" stroke-width="0.6"/>
<text x="201.00" y="137.80" dy="0.35em" font-size="3.4" font-weight="normal" fill="#3c3c3c" font-family='"Liberation Sans",Arial,sans-serif' textLength="4.60" lengthAdjust="spacingAndGlyphs" stroke="#3c3c3c" stroke-width="0.15">5.4</text>
<line x1="207.60" y1="149.55" x2="365.40" y2="149.55" stroke="#eeeeee" stroke-width="0.6"/>
<text x="201.00" y="149.55" dy="0.35em" font-size="3.4" font-weight="normal" fill="#3c3c3c" font-family='"Liberation Sans",Arial,sans-serif' textLength="4.60" lengthAdjust="spacingAndGlyphs" stroke="#3c3c3c" stroke-width="0.15">5.3</text>
<line x1="207.60" y1="161.30" x2="365.40" y2="161.30" stroke="#eeeeee" stroke-width="0.6"/>
<text x="201.00" y="161.30" dy="0.35em" font-size="3.4" font-weight="normal" fill="#3c3c3c" font-family='"Liberation Sans",Arial,sans-serif' textLength="4.60" lengthAdjust="spacingAndGlyphs" stroke="#3c3c3c" stroke-width="0.15">5.2</text>
<line x1="207.60" y1="173.05" x2="365.40" y2="173.05" stroke="#eeeeee" stroke-width="0.6"/>
<text x="201.00" y="173.05" dy="0.35em" font-size="3.4" font-weight="normal" fill="#3c3c3c" font-family='"Liberation Sans",Arial,sans-serif' textLength="4.60" lengthAdjust="spacingAndGlyphs" stroke="#3c3c3c" stroke-width="0.15">5.1</text>
<line x1="207.60" y1="184.80" x2="365.40" y2="184.80" stroke="#eeeeee" stroke-width="0.6"/>
<text x="203.76" y="184.80" dy="0.35em" font-size="3.4" font-weight="normal" fill="#3c3c3c" font-family='"Liberation Sans",Arial,sans-serif' textLength="1.84" lengthAdjust="spacingAndGlyphs" stroke="#3c3c3c" stroke-width="0.15">5</text>
<line x1="207.60" y1="196.55" x2="365.40" y2="196.55" stroke="#eeeeee" stroke-width="0.6"/>
<text x="201.00" y="196.55" dy="0.35em" font-size="3.4" font-weight="normal" fill="#3c3c3c" font-family='"Liberation Sans",Arial,sans-serif' textLength="4.60" lengthAdjust="spacingAndGlyphs" stroke="#3c3c3c" stroke-width="0.15">4.9</text>
<line x1="207.60" y1="208.30" x2="365.40" y2="208.30" stroke="#dedede" stroke-width="0.6"/>
<text x="201.00" y="208.30" dy="0.35em" font-size="3.4" font-weight="normal" fill="#3c3c3c" font-family='"Liberation Sans",Arial,sans-serif' textLength="4.60" lengthAdjust="spacingAndGlyphs" stroke="#3c3c3c" stroke-width="0.15">4.8</text>
<text transform="translate(194.40,173.20) rotate(-90)" x="-3.50" y="0" dy="0.35em" font-size="4.3" fill="#3c3c3c" font-family='"Liberation Sans",Arial,sans-serif' textLength="7.00" lengthAdjust="spacingAndGlyphs" stroke="#3c3c3c" stroke-width="0.1">FPR</text>
<rect x="227.20" y="143.11" width="15.70" height="65.19" fill="#47739f"/>
<rect x="279.30" y="151.77" width="15.70" height="56.53" fill="#47739f"/>
<rect x="331.40" y="182.70" width="15.70" height="25.60" fill="#47739f"/>
<line x1="192.00" y1="212.00" x2="365.40" y2="212.00" stroke="#ececec" stroke-width="0.5"/>
<line x1="192.00" y1="217.30" x2="365.40" y2="217.30" stroke="#ececec" stroke-width="0.5"/>
<line x1="192.00" y1="212.00" x2="192.00" y2="217.30" stroke="#ececec" stroke-width="0.5"/>
<line x1="207.60" y1="208.40" x2="207.60" y2="217.30" stroke="#ececec" stroke-width="0.5"/>
<line x1="260.20" y1="208.40" x2="260.20" y2="217.30" stroke="#ececec" stroke-width="0.5"/>
<line x1="312.80" y1="208.40" x2="312.80" y2="217.30" stroke="#ececec" stroke-width="0.5"/>
<line x1="365.40" y1="208.40" x2="365.40" y2="217.30" stroke="#ececec" stroke-width="0.5"/>
<text x="229.80" y="210.30" dy="0.35em" font-size="3.4" font-weight="normal" fill="#3c3c3c" font-family='"Liberation Sans",Arial,sans-serif' textLength="8.19" lengthAdjust="spacingAndGlyphs" >'lbfgs'</text>
<text x="225.05" y="214.65" dy="0.35em" font-size="3.4" font-weight="normal" fill="#3c3c3c" font-family='"Liberation Sans",Arial,sans-serif' textLength="17.70" lengthAdjust="spacingAndGlyphs" >5.35479143</text>
<text x="283.57" y="210.30" dy="0.35em" font-size="3.4" font-weight="normal" fill="#3c3c3c" font-family='"Liberation Sans",Arial,sans-serif' textLength="5.85" lengthAdjust="spacingAndGlyphs" >'sgd'</text>
<text x="276.76" y="214.65" dy="0.35em" font-size="3.4" font-weight="normal" fill="#3c3c3c" font-family='"Liberation Sans",Arial,sans-serif' textLength="19.47" lengthAdjust="spacingAndGlyphs" >5.281130176</text>
<text x="330.33" y="210.30" dy="0.35em" font-size="3.4" font-weight="normal" fill="#3c3c3c" font-family='"Liberation Sans",Arial,sans-serif' textLength="17.55" lengthAdjust="spacingAndGlyphs" >default: 'adam'</text>
<text x="329.37" y="214.65" dy="0.35em" font-size="3.4" font-weight="normal" fill="#3c3c3c" font-family='"Liberation Sans",Arial,sans-serif' textLength="19.47" lengthAdjust="spacingAndGlyphs" >5.017849056</text>
<rect x="193.60" y="213.90" width="1.50" height="1.50" fill="#47739f"/>
<text x="196.50" y="214.65" dy="0.35em" font-size="3.2" font-weight="normal" fill="#3c3c3c" font-family='"Liberation Sans",Arial,sans-serif' textLength="11.20" lengthAdjust="spacingAndGlyphs" >FPR (%)</text>
<rect x="268.60" y="220.35" width="2.30" height="2.30" fill="#47739f"/>
<text x="272.80" y="221.30" dy="0.35em" font-size="4.9" font-weight="bold" fill="#5e5e5e" font-family='"Liberation Sans",Arial,sans-serif' textLength="16.40" lengthAdjust="spacingAndGlyphs" >FPR (%)</text>
<text x="275.40" y="234.50" dy="0.25em" font-size="8.8" font-weight="bold" fill="#1a1a1a" font-family='"Liberation Serif","Times New Roman",serif' textLength="9.10" lengthAdjust="spacingAndGlyphs" >(e)</text>
<text x="401.40" y="127.70" dy="0.4" font-size="4.9" font-weight="bold" fill="#555555" font-family='"Liberation Sans",Arial,sans-serif' textLength="123.10" lengthAdjust="spacingAndGlyphs" >Evaluation FPR for MLP Parameter of Alpha 10 /</text>
<text x="452.10" y="133.70" dy="0.4" font-size="4.9" font-weight="bold" fill="#555555" font-family='"Liberation Sans",Arial,sans-serif' textLength="22.00" lengthAdjust="spacingAndGlyphs" >Iteration</text>
<line x1="394.60" y1="138.70" x2="551.00" y2="138.70" stroke="#eeeeee" stroke-width="0.6"/>
<text x="386.80" y="138.70" dy="0.35em" font-size="3.4" font-weight="normal" fill="#3c3c3c" font-family='"Liberation Sans",Arial,sans-serif' textLength="4.60" lengthAdjust="spacingAndGlyphs" stroke="#3c3c3c" stroke-width="0.15">5.7</text>
<line x1="394.60" y1="145.61" x2="551.00" y2="145.61" stroke="#eeeeee" stroke-width="0.6"/>
<text x="386.80" y="145.61" dy="0.35em" font-size="3.4" font-weight="normal" fill="#3c3c3c" font-family='"Liberation Sans",Arial,sans-serif' textLength="4.60" lengthAdjust="spacingAndGlyphs" stroke="#3c3c3c" stroke-width="0.15">5.6</text>
<line x1="394.60" y1="152.52" x2="551.00" y2="152.52" stroke="#eeeeee" stroke-width="0.6"/>
<text x="386.80" y="152.52" dy="0.35em" font-size="3.4" font-weight="normal" fill="#3c3c3c" font-family='"Liberation Sans",Arial,sans-serif' textLength="4.60" lengthAdjust="spacingAndGlyphs" stroke="#3c3c3c" stroke-width="0.15">5.5</text>
<line x1="394.60" y1="159.43" x2="551.00" y2="159.43" stroke="#eeeeee" stroke-width="0.6"/>
<text x="386.80" y="159.43" dy="0.35em" font-size="3.4" font-weight="normal" fill="#3c3c3c" font-family='"Liberation Sans",Arial,sans-serif' textLength="4.60" lengthAdjust="spacingAndGlyphs" stroke="#3c3c3c" stroke-width="0.15">5.4</text>
<line x1="394.60" y1="166.34" x2="551.00" y2="166.34" stroke="#eeeeee" stroke-width="0.6"/>
<text x="386.80" y="166.34" dy="0.35em" font-size="3.4" font-weight="normal" fill="#3c3c3c" font-family='"Liberation Sans",Arial,sans-serif' textLength="4.60" lengthAdjust="spacingAndGlyphs" stroke="#3c3c3c" stroke-width="0.15">5.3</text>
<line x1="394.60" y1="173.25" x2="551.00" y2="173.25" stroke="#eeeeee" stroke-width="0.6"/>
<text x="386.80" y="173.25" dy="0.35em" font-size="3.4" font-weight="normal" fill="#3c3c3c" font-family='"Liberation Sans",Arial,sans-serif' textLength="4.60" lengthAdjust="spacingAndGlyphs" stroke="#3c3c3c" stroke-width="0.15">5.2</text>
<line x1="394.60" y1="180.16" x2="551.00" y2="180.16" stroke="#eeeeee" stroke-width="0.6"/>
<text x="386.80" y="180.16" dy="0.35em" font-size="3.4" font-weight="normal" fill="#3c3c3c" font-family='"Liberation Sans",Arial,sans-serif' textLength="4.60" lengthAdjust="spacingAndGlyphs" stroke="#3c3c3c" stroke-width="0.15">5.1</text>
<line x1="394.60" y1="187.07" x2="551.00" y2="187.07" stroke="#eeeeee" stroke-width="0.6"/>
<text x="389.56" y="187.07" dy="0.35em" font-size="3.4" font-weight="normal" fill="#3c3c3c" font-family='"Liberation Sans",Arial,sans-serif' textLength="1.84" lengthAdjust="spacingAndGlyphs" stroke="#3c3c3c" stroke-width="0.15">5</text>
<line x1="394.60" y1="193.98" x2="551.00" y2="193.98" stroke="#eeeeee" stroke-width="0.6"/>
<text x="386.80" y="193.98" dy="0.35em" font-size="3.4" font-weight="normal" fill="#3c3c3c" font-family='"Liberation Sans",Arial,sans-serif' textLength="4.60" lengthAdjust="spacingAndGlyphs" stroke="#3c3c3c" stroke-width="0.15">4.9</text>
<line x1="394.60" y1="200.89" x2="551.00" y2="200.89" stroke="#eeeeee" stroke-width="0.6"/>
<text x="386.80" y="200.89" dy="0.35em" font-size="3.4" font-weight="normal" fill="#3c3c3c" font-family='"Liberation Sans",Arial,sans-serif' textLength="4.60" lengthAdjust="spacingAndGlyphs" stroke="#3c3c3c" stroke-width="0.15">4.8</text>
<line x1="394.60" y1="207.80" x2="551.00" y2="207.80" stroke="#dedede" stroke-width="0.6"/>
<text x="386.80" y="207.80" dy="0.35em" font-size="3.4" font-weight="normal" fill="#3c3c3c" font-family='"Liberation Sans",Arial,sans-serif' textLength="4.60" lengthAdjust="spacingAndGlyphs" stroke="#3c3c3c" stroke-width="0.15">4.7</text>
<text transform="translate(381.00,173.50) rotate(-90)" x="-3.50" y="0" dy="0.35em" font-size="4.3" fill="#3c3c3c" font-family='"Liberation Sans",Arial,sans-serif' textLength="7.00" lengthAdjust="spacingAndGlyphs" stroke="#3c3c3c" stroke-width="0.1">FPR</text>
<rect x="408.30" y="145.42" width="11.70" height="62.38" fill="#47739f"/>
<rect x="447.10" y="170.21" width="11.70" height="37.59" fill="#47739f"/>
<rect x="485.50" y="183.42" width="11.70" height="24.38" fill="#47739f"/>
<rect x="524.00" y="185.84" width="11.70" height="21.96" fill="#47739f"/>
<line x1="378.00" y1="212.00" x2="551.00" y2="212.00" stroke="#ececec" stroke-width="0.5"/>
<line x1="378.00" y1="216.50" x2="551.00" y2="216.50" stroke="#ececec" stroke-width="0.5"/>
<line x1="378.00" y1="212.00" x2="378.00" y2="216.50" stroke="#ececec" stroke-width="0.5"/>
<line x1="394.60" y1="207.80" x2="394.60" y2="216.50" stroke="#ececec" stroke-width="0.5"/>
<line x1="433.70" y1="207.80" x2="433.70" y2="216.50" stroke="#ececec" stroke-width="0.5"/>
<line x1="472.80" y1="207.80" x2="472.80" y2="216.50" stroke="#ececec" stroke-width="0.5"/>
<line x1="511.90" y1="207.80" x2="511.90" y2="216.50" stroke="#ececec" stroke-width="0.5"/>
<line x1="551.00" y1="207.80" x2="551.00" y2="216.50" stroke="#ececec" stroke-width="0.5"/>
<text x="405.15" y="210.00" dy="0.35em" font-size="3.4" font-weight="normal" fill="#3c3c3c" font-family='"Liberation Sans",Arial,sans-serif' textLength="18.00" lengthAdjust="spacingAndGlyphs" >alpha = 10.0</text>
<text x="404.69" y="214.60" dy="0.35em" font-size="3.4" font-weight="normal" fill="#3c3c3c" font-family='"Liberation Sans",Arial,sans-serif' textLength="18.92" lengthAdjust="spacingAndGlyphs" >5.602738535</text>
<text x="445.00" y="210.00" dy="0.35em" font-size="3.4" font-weight="normal" fill="#3c3c3c" font-family='"Liberation Sans",Arial,sans-serif' textLength="16.50" lengthAdjust="spacingAndGlyphs" >alpha = 0.1</text>
<text x="443.79" y="214.60" dy="0.35em" font-size="3.4" font-weight="normal" fill="#3c3c3c" font-family='"Liberation Sans",Arial,sans-serif' textLength="18.92" lengthAdjust="spacingAndGlyphs" >5.243965803</text>
<text x="482.60" y="210.00" dy="0.35em" font-size="3.4" font-weight="normal" fill="#3c3c3c" font-family='"Liberation Sans",Arial,sans-serif' textLength="19.50" lengthAdjust="spacingAndGlyphs" >alpha = 0.001</text>
<text x="482.89" y="214.60" dy="0.35em" font-size="3.4" font-weight="normal" fill="#3c3c3c" font-family='"Liberation Sans",Arial,sans-serif' textLength="18.92" lengthAdjust="spacingAndGlyphs" >5.052856941</text>
<text x="515.70" y="210.00" dy="0.35em" font-size="3.4" font-weight="normal" fill="#3c3c3c" font-family='"Liberation Sans",Arial,sans-serif' textLength="31.50" lengthAdjust="spacingAndGlyphs" >default: alpha = 1e-5</text>
<text x="521.99" y="214.60" dy="0.35em" font-size="3.4" font-weight="normal" fill="#3c3c3c" font-family='"Liberation Sans",Arial,sans-serif' textLength="18.92" lengthAdjust="spacingAndGlyphs" >5.017849056</text>
<rect x="379.80" y="213.80" width="1.60" height="1.60" fill="#47739f"/>
<text x="382.90" y="214.60" dy="0.35em" font-size="3.2" font-weight="normal" fill="#3c3c3c" font-family='"Liberation Sans",Arial,sans-serif' textLength="10.90" lengthAdjust="spacingAndGlyphs" >FPR (%)</text>
<rect x="454.00" y="219.80" width="2.40" height="2.40" fill="#47739f"/>
<text x="458.20" y="220.80" dy="0.35em" font-size="4.9" font-weight="bold" fill="#5e5e5e" font-family='"Liberation Sans",Arial,sans-serif' textLength="15.40" lengthAdjust="spacingAndGlyphs" >FPR (%)</text>
<text x="461.30" y="234.50" dy="0.25em" font-size="8.8" font-weight="bold" fill="#1a1a1a" font-family='"Liberation Serif","Times New Roman",serif' textLength="7.70" lengthAdjust="spacingAndGlyphs" >(f)</text>
</svg></body></html>
